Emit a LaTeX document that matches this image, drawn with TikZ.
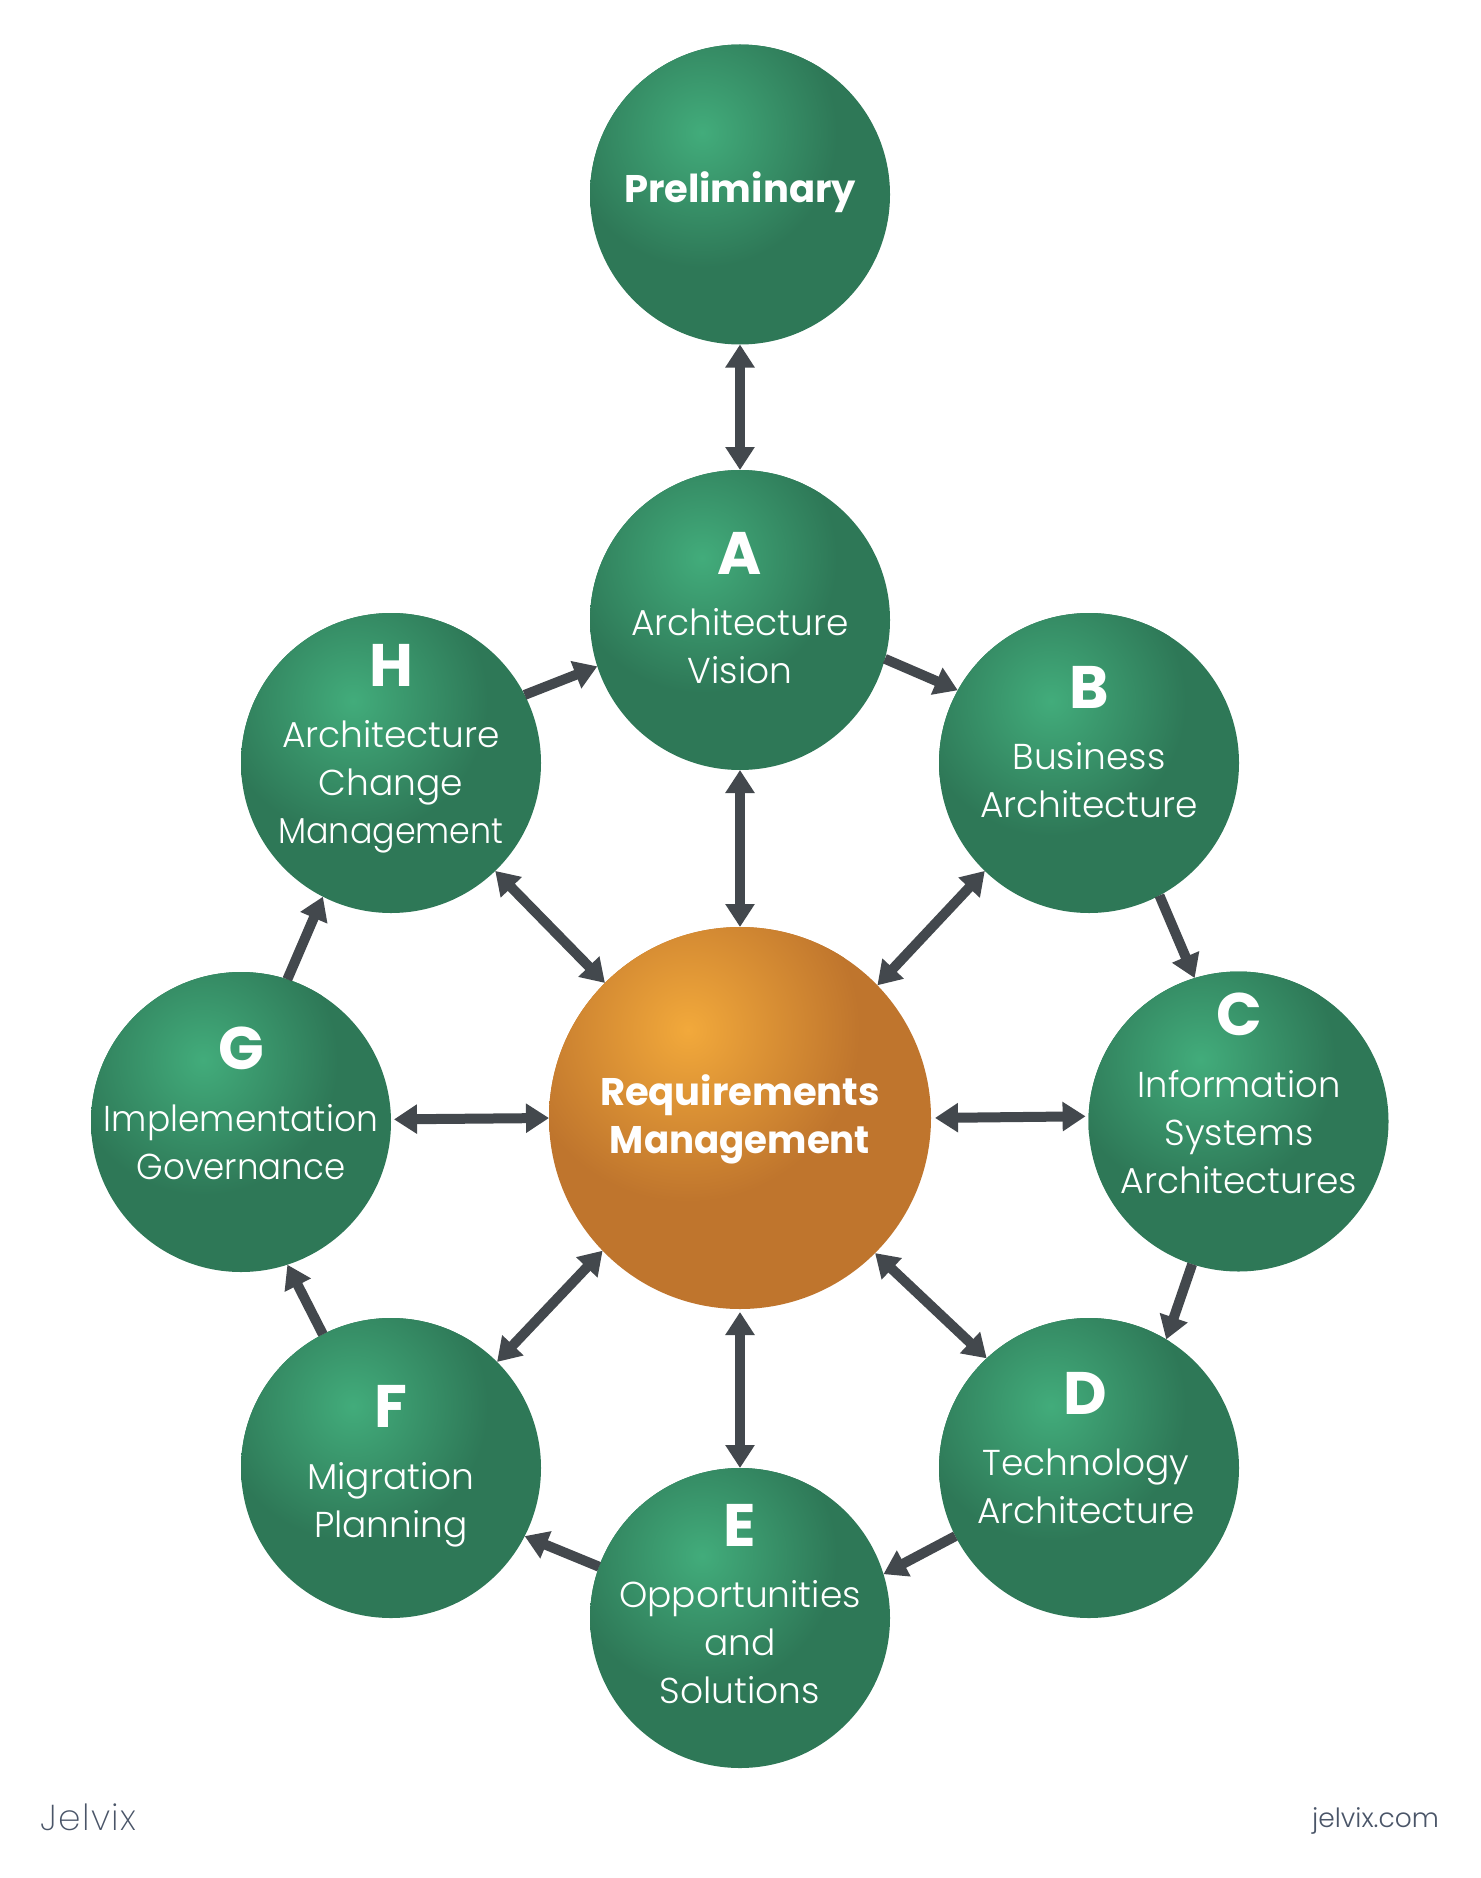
\documentclass[tikz,border=0pt]{standalone}
\usepackage{fontspec}
\usetikzlibrary{arrows.meta}
\setmainfont{Poppins}
\newfontfamily\lightf{Poppins Light}
\newfontfamily\boldf{Poppins Bold}
\newfontfamily\thinf[LetterSpace=4]{Poppins ExtraLight}
\definecolor{gh}{HTML}{42AC7B}
\definecolor{gd}{HTML}{2E7857}
\definecolor{oh}{HTML}{F2A93B}
\definecolor{od}{HTML}{BF752D}
\definecolor{arrowc}{HTML}{43484D}
\definecolor{foot}{HTML}{4A5568}
\pgfdeclareradialshading{greenglow}{\pgfpointorigin}{color(0pt)=(gh); color(135pt)=(gd)}
\pgfdeclareradialshading{orangeglow}{\pgfpointorigin}{color(0pt)=(oh); color(172pt)=(od)}
\newcommand{\narrowed}[2]{\scalebox{#1}[1]{#2}}
\tikzset{
  glow/.style={inner sep=0pt,outer sep=0pt,anchor=center},
  ball/.style={circle,minimum size=300pt,inner sep=0pt,outer sep=0pt,fill=gd,
    path picture={\node[glow] at ([shift={(-38,-62)}]path picture bounding box.center) {\pgfuseshading{greenglow}};}},
  hub/.style={circle,minimum size=382pt,inner sep=0pt,outer sep=0pt,fill=od,
    path picture={\node[glow] at ([shift={(-52,-88)}]path picture bounding box.center) {\pgfuseshading{orangeglow}};}},
  letter/.style={anchor=base,text=white,inner sep=0pt,font=\boldf\fontsize{60}{60}\selectfont},
  caption/.style={anchor=base,text=white,inner sep=0pt,align=center,font=\lightf\fontsize{36}{48}\selectfont},
  strong/.style={anchor=base,text=white,inner sep=0pt,align=center,font=\boldf\fontsize{38.5}{48}\selectfont},
  link/.style={draw=arrowc,fill=none,line width=10pt,>={Triangle[length=23pt,width=28pt]}},
  foottext/.style={anchor=base west,text=foot,inner sep=0pt}
}
\begin{document}
\begin{tikzpicture}[x=1pt,y=-1pt]
\useasboundingbox (0,0) rectangle (1480,1878);
\node[ball] (P) at (740,194.5) {};
\node[ball] (A) at (740,620) {};
\node[ball] (B) at (1089,763) {};
\node[ball] (C) at (1238.5,1121.5) {};
\node[ball] (D) at (1089,1468) {};
\node[ball] (E) at (740,1618) {};
\node[ball] (F) at (391,1468) {};
\node[ball] (G) at (241,1122) {};
\node[ball] (H) at (391,763) {};
\node[hub] (R) at (740,1118) {};
\draw[link,<->] (P) -- (A);
\draw[link,<->] (A) -- (R);
\draw[link,<->] (H.-46.6) -- (R.135);
\draw[link,<->] (B.226.9) -- (R.44.8);
\draw[link,<->,shorten <=3pt] (G.1.5) -- (R.180);
\draw[link,<->,shorten <=4pt,shorten >=3pt] (R.0) -- (C.178.7);
\draw[link,<->] (R.-45) -- (D.133.9);
\draw[link,<->] (R.224.6) -- (F.45.8);
\draw[link,<->,shorten <=3pt] (R) -- (E);
\draw[link,->] (H.27) -- (A.198.6);
\draw[link,->] (A.-15.4) -- (B.151.4);
\draw[link,->] (B.-62.1) -- (C.107);
\draw[link,->] (C.252.3) -- (D.59.7);
\draw[link,->] (D.207.9) -- (E.17);
\draw[link,->] (E.160.6) -- (F.-27.6);
\draw[link,->] (F.117.1) -- (G.-72.6);
\draw[link,->] (G.72.8) -- (H.243.1);
\node[strong] (Pt) at (740,203) {Preliminary};
\node[letter] (Al) at (740,574) {A};
\node[caption] (Ac) at (740,683) {Architecture\\Vision};
\node[letter] (Bl) at (1089,708) {B};
\node[caption] (Bc) at (1089,817) {Business\\Architecture};
\node[letter] (Cl) at (1239,1035) {C};
\node[caption] (Cc) at (1239,1193) {\narrowed{.98}{Information}\\Systems\\Architectures};
\node[letter] (Dl) at (1085,1414) {D};
\node[caption] (Dc) at (1086,1523) {Technology\\Architecture};
\node[letter] (El) at (740,1546) {E};
\node[caption] (Ec) at (740,1703) {Opportunities\\and\\Solutions};
\node[letter] (Fl) at (391,1427) {F};
\node[caption] (Fc) at (391,1537) {Migration\\Planning};
\node[letter] (Gl) at (241,1069) {G};
\node[caption] (Gc) at (241,1179) {\narrowed{.958}{Implementation}\\\narrowed{.945}{Governance}};
\node[letter] (Hl) at (391,686) {H};
\node[caption] (Hc) at (391,843) {Architecture\\Change\\\narrowed{.926}{Management}};
\node[strong] (Rt) at (740,1153) {Requirements\\\narrowed{.965}{Management}};
\node[foottext,font=\thinf\fontsize{36}{36}\selectfont] (J) at (40,1830) {Jelvix};
\node[foottext,font=\lightf\fontsize{26.5}{26.5}\selectfont] (W) at (1312,1827) {jelvix.com};
\end{tikzpicture}
\end{document}
